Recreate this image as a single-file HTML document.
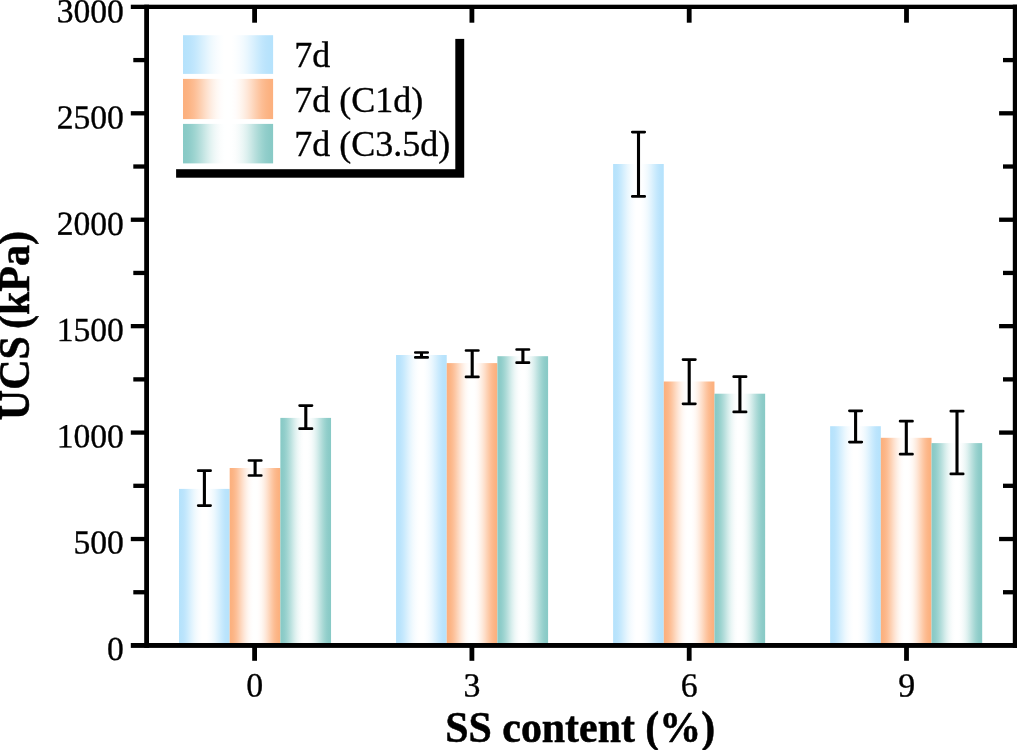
<!DOCTYPE html>
<html><head><meta charset="utf-8"><title>UCS vs SS content</title>
<style>html,body{margin:0;padding:0;background:#fff}body{width:1018px;height:750px;overflow:hidden}svg{display:block}text{font-family:"Liberation Serif","Times New Roman",serif;fill:#000}</style></head><body>
<svg width="1018" height="750" viewBox="0 0 1018 750">
<defs>
<linearGradient id="b" x1="0" x2="1" y1="0" y2="0"><stop offset="0.0000" stop-color="#b5e2fc"/><stop offset="0.0417" stop-color="#b7e3fc"/><stop offset="0.0833" stop-color="#bbe4fc"/><stop offset="0.1250" stop-color="#c2e7fd"/><stop offset="0.1667" stop-color="#cbebfd"/><stop offset="0.2083" stop-color="#d6effd"/><stop offset="0.2500" stop-color="#e0f3fe"/><stop offset="0.2917" stop-color="#eaf7fe"/><stop offset="0.3333" stop-color="#f2fafe"/><stop offset="0.3750" stop-color="#f8fcff"/><stop offset="0.4167" stop-color="#fcfeff"/><stop offset="0.4583" stop-color="#ffffff"/><stop offset="0.5000" stop-color="#ffffff"/><stop offset="0.5417" stop-color="#ffffff"/><stop offset="0.5833" stop-color="#fcfeff"/><stop offset="0.6250" stop-color="#f8fcff"/><stop offset="0.6667" stop-color="#f2fafe"/><stop offset="0.7083" stop-color="#eaf7fe"/><stop offset="0.7500" stop-color="#e0f3fe"/><stop offset="0.7917" stop-color="#d6effd"/><stop offset="0.8333" stop-color="#cbebfd"/><stop offset="0.8750" stop-color="#c2e7fd"/><stop offset="0.9167" stop-color="#bbe4fc"/><stop offset="0.9583" stop-color="#b7e3fc"/><stop offset="1.0000" stop-color="#b5e2fc"/></linearGradient>
<linearGradient id="o" x1="0" x2="1" y1="0" y2="0"><stop offset="0.0000" stop-color="#fcb07e"/><stop offset="0.0417" stop-color="#fcb281"/><stop offset="0.0833" stop-color="#fcb789"/><stop offset="0.1250" stop-color="#fdbe95"/><stop offset="0.1667" stop-color="#fdc8a5"/><stop offset="0.2083" stop-color="#fdd3b7"/><stop offset="0.2500" stop-color="#fedec9"/><stop offset="0.2917" stop-color="#fee8da"/><stop offset="0.3333" stop-color="#fef1e8"/><stop offset="0.3750" stop-color="#fff8f3"/><stop offset="0.4167" stop-color="#fffcfb"/><stop offset="0.4583" stop-color="#fffffe"/><stop offset="0.5000" stop-color="#ffffff"/><stop offset="0.5417" stop-color="#fffffe"/><stop offset="0.5833" stop-color="#fffcfb"/><stop offset="0.6250" stop-color="#fff8f3"/><stop offset="0.6667" stop-color="#fef1e8"/><stop offset="0.7083" stop-color="#fee8da"/><stop offset="0.7500" stop-color="#fedec9"/><stop offset="0.7917" stop-color="#fdd3b7"/><stop offset="0.8333" stop-color="#fdc8a5"/><stop offset="0.8750" stop-color="#fdbe95"/><stop offset="0.9167" stop-color="#fcb789"/><stop offset="0.9583" stop-color="#fcb281"/><stop offset="1.0000" stop-color="#fcb07e"/></linearGradient>
<linearGradient id="g" x1="0" x2="1" y1="0" y2="0"><stop offset="0.0000" stop-color="#88cac6"/><stop offset="0.0417" stop-color="#8bcbc7"/><stop offset="0.0833" stop-color="#92cecb"/><stop offset="0.1250" stop-color="#9dd4d0"/><stop offset="0.1667" stop-color="#acdad7"/><stop offset="0.2083" stop-color="#bce1df"/><stop offset="0.2500" stop-color="#cde9e7"/><stop offset="0.2917" stop-color="#ddf0ef"/><stop offset="0.3333" stop-color="#eaf6f5"/><stop offset="0.3750" stop-color="#f4fafa"/><stop offset="0.4167" stop-color="#fbfdfd"/><stop offset="0.4583" stop-color="#feffff"/><stop offset="0.5000" stop-color="#ffffff"/><stop offset="0.5417" stop-color="#feffff"/><stop offset="0.5833" stop-color="#fbfdfd"/><stop offset="0.6250" stop-color="#f4fafa"/><stop offset="0.6667" stop-color="#eaf6f5"/><stop offset="0.7083" stop-color="#ddf0ef"/><stop offset="0.7500" stop-color="#cde9e7"/><stop offset="0.7917" stop-color="#bce1df"/><stop offset="0.8333" stop-color="#acdad7"/><stop offset="0.8750" stop-color="#9dd4d0"/><stop offset="0.9167" stop-color="#92cecb"/><stop offset="0.9583" stop-color="#8bcbc7"/><stop offset="1.0000" stop-color="#88cac6"/></linearGradient>
</defs>
<rect width="1018" height="750" fill="#fff"/>
<rect x="179.00" y="488.9" width="50.68" height="155.1" fill="url(#b)"/>
<rect x="229.68" y="468.0" width="50.68" height="176.0" fill="url(#o)"/>
<rect x="280.36" y="417.9" width="50.68" height="226.1" fill="url(#g)"/>
<rect x="396.05" y="355.0" width="50.68" height="289.0" fill="url(#b)"/>
<rect x="446.73" y="363.1" width="50.68" height="280.9" fill="url(#o)"/>
<rect x="497.41" y="356.2" width="50.68" height="287.8" fill="url(#g)"/>
<rect x="613.10" y="164.0" width="50.68" height="480.0" fill="url(#b)"/>
<rect x="663.78" y="381.5" width="50.68" height="262.5" fill="url(#o)"/>
<rect x="714.46" y="393.7" width="50.68" height="250.3" fill="url(#g)"/>
<rect x="830.15" y="426.2" width="50.68" height="217.8" fill="url(#b)"/>
<rect x="880.83" y="437.8" width="50.68" height="206.2" fill="url(#o)"/>
<rect x="931.51" y="443.1" width="50.68" height="200.9" fill="url(#g)"/>
<g stroke="#000" fill="none">
<path d="M204.4 470.7V505.6" stroke-width="3.1"/>
<path d="M198.2 470.7h12.4M198.2 505.6h12.4" stroke-width="2.7" stroke-linecap="round"/>
<path d="M255.1 460.5V475.5" stroke-width="3.1"/>
<path d="M248.9 460.5h12.4M248.9 475.5h12.4" stroke-width="2.7" stroke-linecap="round"/>
<path d="M305.8 405.6V428.7" stroke-width="3.1"/>
<path d="M299.6 405.6h12.4M299.6 428.7h12.4" stroke-width="2.7" stroke-linecap="round"/>
<path d="M421.5 352.5V357.4" stroke-width="3.1"/>
<path d="M415.3 352.5h12.4M415.3 357.4h12.4" stroke-width="2.7" stroke-linecap="round"/>
<path d="M472.2 350.5V376.9" stroke-width="3.1"/>
<path d="M466.0 350.5h12.4M466.0 376.9h12.4" stroke-width="2.7" stroke-linecap="round"/>
<path d="M522.9 349.5V362.7" stroke-width="3.1"/>
<path d="M516.6 349.5h12.4M516.6 362.7h12.4" stroke-width="2.7" stroke-linecap="round"/>
<path d="M638.5 132.1V196.4" stroke-width="3.1"/>
<path d="M632.3 132.1h12.4M632.3 196.4h12.4" stroke-width="2.7" stroke-linecap="round"/>
<path d="M689.2 359.6V403.8" stroke-width="3.1"/>
<path d="M683.0 359.6h12.4M683.0 403.8h12.4" stroke-width="2.7" stroke-linecap="round"/>
<path d="M739.9 376.7V411.9" stroke-width="3.1"/>
<path d="M733.7 376.7h12.4M733.7 411.9h12.4" stroke-width="2.7" stroke-linecap="round"/>
<path d="M855.6 410.8V442.1" stroke-width="3.1"/>
<path d="M849.4 410.8h12.4M849.4 442.1h12.4" stroke-width="2.7" stroke-linecap="round"/>
<path d="M906.3 421.2V454.2" stroke-width="3.1"/>
<path d="M900.1 421.2h12.4M900.1 454.2h12.4" stroke-width="2.7" stroke-linecap="round"/>
<path d="M957.0 411.2V473.9" stroke-width="3.1"/>
<path d="M950.8 411.2h12.4M950.8 473.9h12.4" stroke-width="2.7" stroke-linecap="round"/>
</g>
<g fill="#000">
<rect x="130.8" y="4.7" width="886.2" height="4.3"/>
<rect x="130.8" y="643.0" width="886.2" height="4.9"/>
<rect x="144.2" y="4.7" width="4.8" height="643.2"/>
<rect x="1012.8" y="4.7" width="4.2" height="643.2"/>
<rect x="133.3" y="590.09" width="11.9" height="4.3"/>
<rect x="1003.0" y="590.09" width="10.8" height="4.3"/>
<rect x="130.8" y="536.87" width="14.4" height="4.3"/>
<rect x="999.1" y="536.87" width="14.7" height="4.3"/>
<rect x="133.3" y="483.66" width="11.9" height="4.3"/>
<rect x="1003.0" y="483.66" width="10.8" height="4.3"/>
<rect x="130.8" y="430.44" width="14.4" height="4.3"/>
<rect x="999.1" y="430.44" width="14.7" height="4.3"/>
<rect x="133.3" y="377.23" width="11.9" height="4.3"/>
<rect x="1003.0" y="377.23" width="10.8" height="4.3"/>
<rect x="130.8" y="324.01" width="14.4" height="4.3"/>
<rect x="999.1" y="324.01" width="14.7" height="4.3"/>
<rect x="133.3" y="270.80" width="11.9" height="4.3"/>
<rect x="1003.0" y="270.80" width="10.8" height="4.3"/>
<rect x="130.8" y="217.58" width="14.4" height="4.3"/>
<rect x="999.1" y="217.58" width="14.7" height="4.3"/>
<rect x="133.3" y="164.37" width="11.9" height="4.3"/>
<rect x="1003.0" y="164.37" width="10.8" height="4.3"/>
<rect x="130.8" y="111.15" width="14.4" height="4.3"/>
<rect x="999.1" y="111.15" width="14.7" height="4.3"/>
<rect x="133.3" y="57.94" width="11.9" height="4.3"/>
<rect x="1003.0" y="57.94" width="10.8" height="4.3"/>
<rect x="252.2" y="8.0" width="4.8" height="14.7"/>
<rect x="252.2" y="646.9" width="4.8" height="13.9"/>
<rect x="469.5" y="8.0" width="4.8" height="14.7"/>
<rect x="469.5" y="646.9" width="4.8" height="13.9"/>
<rect x="686.8" y="8.0" width="4.8" height="14.7"/>
<rect x="686.8" y="646.9" width="4.8" height="13.9"/>
<rect x="904.1" y="8.0" width="4.8" height="14.7"/>
<rect x="904.1" y="646.9" width="4.8" height="13.9"/>
</g>
<g font-size="33.6" text-anchor="end" stroke="#000" stroke-width="0.35">
<text transform="translate(123.9 659.9) rotate(0.03)">0</text>
<text transform="translate(123.9 553.6) rotate(0.03)">500</text>
<text transform="translate(123.9 447.4) rotate(0.03)">1000</text>
<text transform="translate(123.9 341.1) rotate(0.03)">1500</text>
<text transform="translate(123.9 234.9) rotate(0.03)">2000</text>
<text transform="translate(123.9 128.6) rotate(0.03)">2500</text>
<text transform="translate(123.9 22.4) rotate(0.03)">3000</text>
</g>
<g font-size="33.8" text-anchor="middle" stroke="#000" stroke-width="0.35">
<text transform="translate(254.7 696.6) rotate(0.03)">0</text>
<text transform="translate(472.0 696.6) rotate(0.03)">3</text>
<text transform="translate(689.3 696.6) rotate(0.03)">6</text>
<text transform="translate(906.6 696.6) rotate(0.03)">9</text>
</g>
<text transform="translate(580.2 742.3) rotate(0.02) scale(1 1.07)" font-size="41.9" font-weight="bold" stroke="#000" stroke-width="0.5" text-anchor="middle">SS content (%)</text>
<text transform="translate(29.0 325.6) rotate(-90) scale(1 1.07)" word-spacing="-3.3" font-size="42" font-weight="bold" stroke="#000" stroke-width="0.5" text-anchor="middle">UCS (kPa)</text>
<rect x="176.1" y="38.9" width="288.1" height="138.8" fill="#000"/>
<rect x="167.2" y="30" width="288.1" height="139.2" fill="#fff"/>
<rect x="183.0" y="35.2" width="90.1" height="38.7" fill="url(#b)"/>
<rect x="183.0" y="78.9" width="90.1" height="40.2" fill="url(#o)"/>
<rect x="183.0" y="123.9" width="90.1" height="39.5" fill="url(#g)"/>
<g font-size="36" stroke="#000" stroke-width="0.35">
<text transform="translate(294.3 67.3) scale(1 0.98)">7d</text>
<text transform="translate(294.3 112.1) scale(1 0.98)">7d (C1d)</text>
<text transform="translate(294.3 156.1) scale(1 0.98)">7d (C3.5d)</text>
</g>
</svg></body></html>
